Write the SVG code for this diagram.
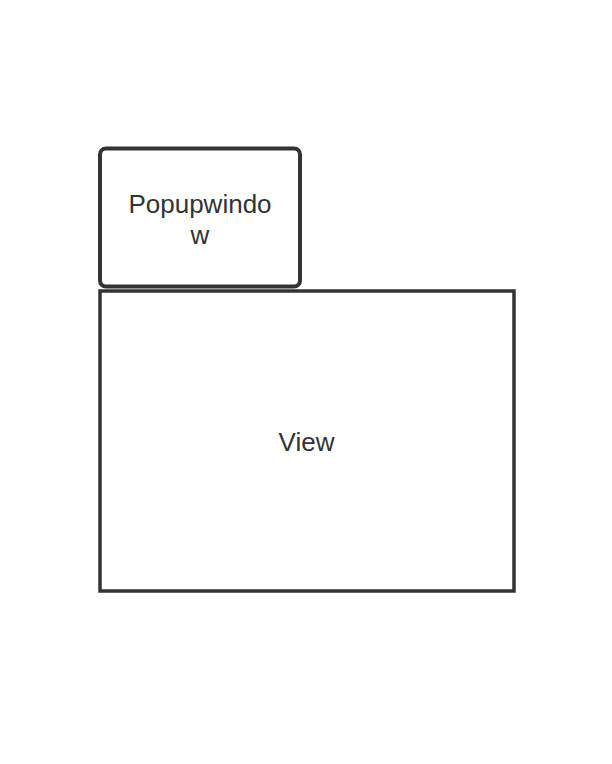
<svg xmlns="http://www.w3.org/2000/svg" width="612" height="764" viewBox="0 0 612 764">
<style>
.box{fill:#ffffff;stroke:#333333;stroke-width:3.5}
.pop{stroke-width:4}
.lbl{font-family:"Liberation Sans",Arial,sans-serif;font-size:26px;fill:#333333;text-anchor:middle}
</style>
<rect width="612" height="764" fill="#ffffff"/>
<g id="popupwindow">
<rect class="box pop" x="100" y="148.5" width="200" height="138" rx="6" ry="6"/>
<text class="lbl" x="200" y="213">Popupwindo</text>
<text class="lbl" x="200" y="244">w</text>
</g>
<g id="view">
<rect class="box" x="100" y="291" width="414" height="300"/>
<text class="lbl" x="306.5" y="451">View</text>
</g>
<g id="connectors"></g>
</svg>
